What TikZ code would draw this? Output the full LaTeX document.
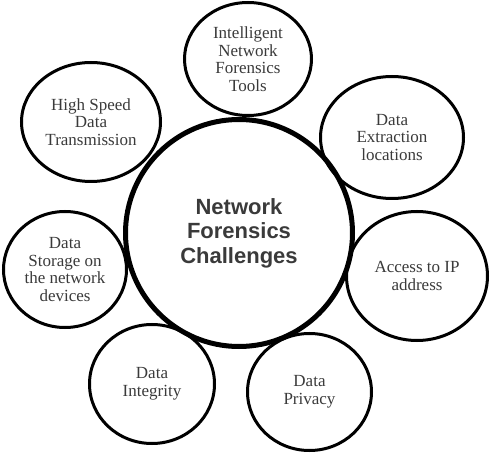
\documentclass[tikz,border=0pt]{standalone}
\usepackage{fontspec}
\setmainfont{Liberation Serif}
\setsansfont{Liberation Sans}
\usetikzlibrary{shapes.geometric,backgrounds}
\definecolor{ink}{HTML}{3A3A3A}
\begin{document}
\begin{tikzpicture}[x=1pt,y=-1pt,
  topic/.style={draw,ellipse,line width=3pt,inner sep=0pt,align=center,text=ink,
    font=\fontsize{17}{17.5}\selectfont},
  core/.style={draw,circle,line width=5pt,inner sep=0pt,minimum size=227pt,align=center,
    text=ink,font=\sffamily\bfseries\fontsize{22}{24.5}\selectfont},
  lens/.style={fill=black!27}]
\useasboundingbox (0,0) rectangle (490,454);

\node[core] (hub) at (239,233) {Network\\Forensics\\Challenges};
\node[topic,minimum width=127pt,minimum height=113pt] (tools) at (248,59) {Intelligent\\Network\\Forensics\\Tools};
\node[topic,minimum width=139pt,minimum height=119pt] (speed) at (91,122) {High Speed\\Data\\Transmission};
\node[topic,minimum width=143pt,minimum height=122pt] (extract) at (392,137.5) {Data\\Extraction\\locations};
\node[topic,minimum width=141pt,minimum height=129pt] (ipaddr) at (417,276) {Access to IP\\address};
\node[topic,minimum width=124pt,minimum height=117pt] (privacy) at (309.5,392) {Data\\Privacy};
\node[topic,minimum width=125pt,minimum height=119pt] (integrity) at (152,384) {Data\\Integrity};
\node[topic,minimum width=123pt,minimum height=116pt] (storage) at (65,269.5) {Data\\Storage on\\the network\\devices};

\begin{scope}[on background layer]
\clip (hub.center) circle [radius=113.5pt];
\foreach \n/\a/\b in {tools/63.5pt/56.5pt,speed/69.5pt/59.5pt,extract/71.5pt/61pt,
  ipaddr/70.5pt/64.5pt,privacy/62pt/58.5pt,integrity/62.5pt/59.5pt,storage/61.5pt/58pt}
  \fill[lens] (\n.center) ellipse [x radius=\a, y radius=\b];
\end{scope}
\end{tikzpicture}
\end{document}
